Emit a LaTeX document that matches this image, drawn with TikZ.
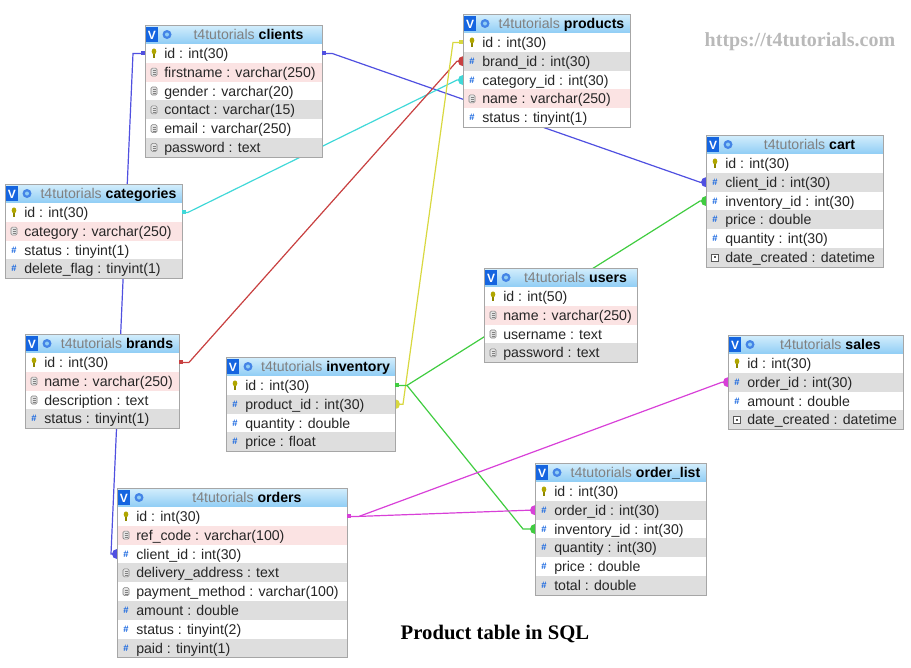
\documentclass[tikz,border=0pt]{standalone}
\usepackage{fontspec}
\setmainfont{Liberation Sans}
\newfontfamily\serifbold{Liberation Serif}
\usetikzlibrary{calc}
\pgfdeclarelayer{background}
\pgfsetlayers{background,main}

\definecolor{rowW}{HTML}{FFFFFF}
\definecolor{rowG}{HTML}{DEDEDE}
\definecolor{rowP}{HTML}{FBE3E3}
\definecolor{hdTop}{HTML}{D4EEFC}
\definecolor{hdBot}{HTML}{8FCDF5}
\definecolor{vBlue}{HTML}{1565E0}
\definecolor{lnBlue}{HTML}{5050E0}
\definecolor{lnCyan}{HTML}{40D8D8}
\definecolor{lnRed}{HTML}{C84040}
\definecolor{lnYellow}{HTML}{D8D840}
\definecolor{lnGreen}{HTML}{40CC40}
\definecolor{lnMagenta}{HTML}{D840D8}

\tikzset{
  row/.style={anchor=north west, inner sep=0pt, outer sep=0pt, minimum height=14.1pt},
  head/.style={anchor=north west, inner sep=0pt, outer sep=0pt, minimum height=14.25pt,
    top color=hdTop, bottom color=hdBot},
  field/.style={anchor=base west, inner sep=0pt, font=\fontsize{10.6}{12}\selectfont, text=black!85},
  link/.style={line width=0.9pt},
}

%--- table : id, label, x, y, width, rows (icon/bg/text) ---
\newcommand{\dbtab}[6]{%
  \node[head, minimum width=#5*0.75pt] (#1) at (#3,#4) {};
  \fill[vBlue] (#3+1,#4+2) rectangle (#3+13,#4+17);
  \node[text=white, font=\bfseries\fontsize{9}{9}\selectfont, anchor=base, inner sep=0pt] at (#3+7,#4+14) {V};
  \fill[vBlue!80] (#3+22,#4+9.5) circle (4.5);
  \fill[hdBot] (#3+22,#4+9.5) circle (2);
  \node[font=\fontsize{10.6}{12}\selectfont, anchor=base, inner sep=0pt] at ($(#3+30,#4+14)!0.5!(#3+#5,#4+14)$)
    {\textcolor{gray}{t4tutorials} \textbf{#2}};
  \foreach \ic/\bg/\txt [count=\n] in {#6} {
    \node[row, fill=row\bg, minimum width=#5*0.75pt] (#1-\n) at (#3,#4+19+\n*18.8-18.8) {};
    \node[field] at (#3+19,#4+33.5+\n*18.8-18.8) {\txt};
    \coordinate (ic) at (#3+9,#4+28.4+\n*18.8-18.8);
    \ifcase\ic\or
      \fill[olive!70!yellow] (ic) ++(0,-2) ellipse (2.3 and 3); \fill[olive] (ic) ++(-1,1) rectangle ++(2,4);
    \or
      \node[text=vBlue, font=\bfseries\fontsize{7}{7}\selectfont, inner sep=0pt] at (ic) {\#};
    \or
      \draw[gray, fill=gray!20, rounded corners=1pt] (ic) ++(-3,-4) rectangle ++(6,8);
      \draw[gray] (ic) ++(-1.5,-1.5) -- ++(3,0) (ic) ++(-1.5,0.5) -- ++(3,0) (ic) ++(-1.5,2.5) -- ++(3,0);
    \or
      \draw[gray!70!black, fill=white] (ic) ++(-3.5,-3.5) rectangle ++(7,7);
      \fill[gray!70!black] (ic) ++(-1,-1) rectangle ++(2,2);
    \fi
    \xdef\lastrow{\n}
  }
  \draw[gray!70] (#1.north west) rectangle (#1-\lastrow.south east);
}

\begin{document}
\begin{tikzpicture}[x=0.75pt,y=-0.75pt]
  \useasboundingbox (0,0) rectangle (911,668);

  %--- Tables ---
  \dbtab{clients}{clients}{145}{25}{177}{1/W/id : int(30), 3/P/firstname : varchar(250), 3/W/gender : varchar(20),
    3/G/contact : varchar(15), 3/W/email : varchar(250), 3/G/password : text}
  \dbtab{products}{products}{463}{14}{167}{1/W/id : int(30), 2/G/brand\_id : int(30), 2/W/category\_id : int(30),
    3/P/name : varchar(250), 2/W/status : tinyint(1)}
  \dbtab{cart}{cart}{706}{135}{177}{1/W/id : int(30), 2/G/client\_id : int(30), 2/W/inventory\_id : int(30),
    2/G/price : double, 2/W/quantity : int(30), 4/G/date\_created : datetime}
  \dbtab{categories}{categories}{5}{184}{177}{1/W/id : int(30), 3/P/category : varchar(250), 2/W/status : tinyint(1),
    2/G/delete\_flag : tinyint(1)}
  \dbtab{users}{users}{484}{268}{153}{1/W/id : int(50), 3/P/name : varchar(250), 3/W/username : text,
    3/G/password : text}
  \dbtab{brands}{brands}{25}{334}{154}{1/W/id : int(30), 3/P/name : varchar(250), 3/W/description : text,
    2/G/status : tinyint(1)}
  \dbtab{inventory}{inventory}{226}{357}{169}{1/W/id : int(30), 2/G/product\_id : int(30), 2/W/quantity : double,
    2/G/price : float}
  \dbtab{sales}{sales}{728}{335}{175}{1/W/id : int(30), 2/G/order\_id : int(30), 2/W/amount : double,
    4/G/date\_created : datetime}
  \dbtab{orderlist}{order\_list}{535}{463}{171}{1/W/id : int(30), 2/G/order\_id : int(30), 2/W/inventory\_id : int(30),
    2/G/quantity : int(30), 2/W/price : double, 2/G/total : double}
  \dbtab{orders}{orders}{117}{488}{230}{1/W/id : int(30), 3/P/ref\_code : varchar(100), 2/W/client\_id : int(30),
    3/G/delivery\_address : text, 3/W/payment\_method : varchar(100), 2/G/amount : double,
    2/W/status : tinyint(2), 2/G/paid : tinyint(1)}

  %--- Liens (derriere les tables) ---
  \begin{pgfonlayer}{background}
    \draw[link, lnBlue] (clients-1.west) -- ++(-12,0) -- ($(orders-3.west)+(-6,0)$) -- (orders-3.west);
    \draw[link, lnBlue] (clients-1.east) -- ++(10,0) -- ($(cart-2.west)+(-6,0)$) -- (cart-2.west);
    \draw[link, lnCyan] (categories-1.east) -- ++(6,0) -- ($(products-3.west)+(-6,0)$) -- (products-3.west);
    \draw[link, lnRed] (brands-1.east) -- ++(10,0) -- ($(products-2.west)+(-6,0)$) -- (products-2.west);
    \draw[link, lnYellow] (inventory-2.east) -- ++(8,0) -- ($(products-1.west)+(-10,0)$) -- (products-1.west);
    \draw[link, lnGreen] (inventory-1.east) -- ++(12,0) coordinate (gj) -- ($(cart-3.west)+(-6,0)$) -- (cart-3.west);
    \draw[link, lnGreen] (gj) -- ($(orderlist-3.west)+(-12,0)$) -- (orderlist-3.west);
    \draw[link, lnMagenta] (orders-1.east) -- ++(12,0) coordinate (mj) -- ($(sales-2.west)+(-6,0)$) -- (sales-2.west);
    \draw[link, lnMagenta] (mj) -- ($(orderlist-2.west)+(-6,0)$) -- (orderlist-2.west);

    %--- Extremites ---
    \foreach \pt/\cl in {orders-3.west/lnBlue, cart-2.west/lnBlue, products-3.west/lnCyan,
      products-2.west/lnRed, inventory-2.east/lnYellow, cart-3.west/lnGreen,
      orderlist-3.west/lnGreen, sales-2.west/lnMagenta, orderlist-2.west/lnMagenta}
      \fill[\cl] (\pt) circle (5);
  \end{pgfonlayer}
  \foreach \pt/\cl/\dx in {clients-1.west/lnBlue/-4, clients-1.east/lnBlue/0, categories-1.east/lnCyan/0,
    brands-1.east/lnRed/0, products-1.west/lnYellow/-4, inventory-1.east/lnGreen/0, orders-1.east/lnMagenta/0}
    \fill[\cl] (\pt) ++(\dx,-2) rectangle ++(4,4);

  %--- Textes ---
  \node[font=\serifbold\bfseries\fontsize{15}{17}\selectfont, text=gray!55] (site) at (800,42) {https://t4tutorials.com};
  \node[font=\serifbold\bfseries\fontsize{15.5}{17}\selectfont] (caption) at (495,634) {Product table in SQL};
\end{tikzpicture}
\end{document}
